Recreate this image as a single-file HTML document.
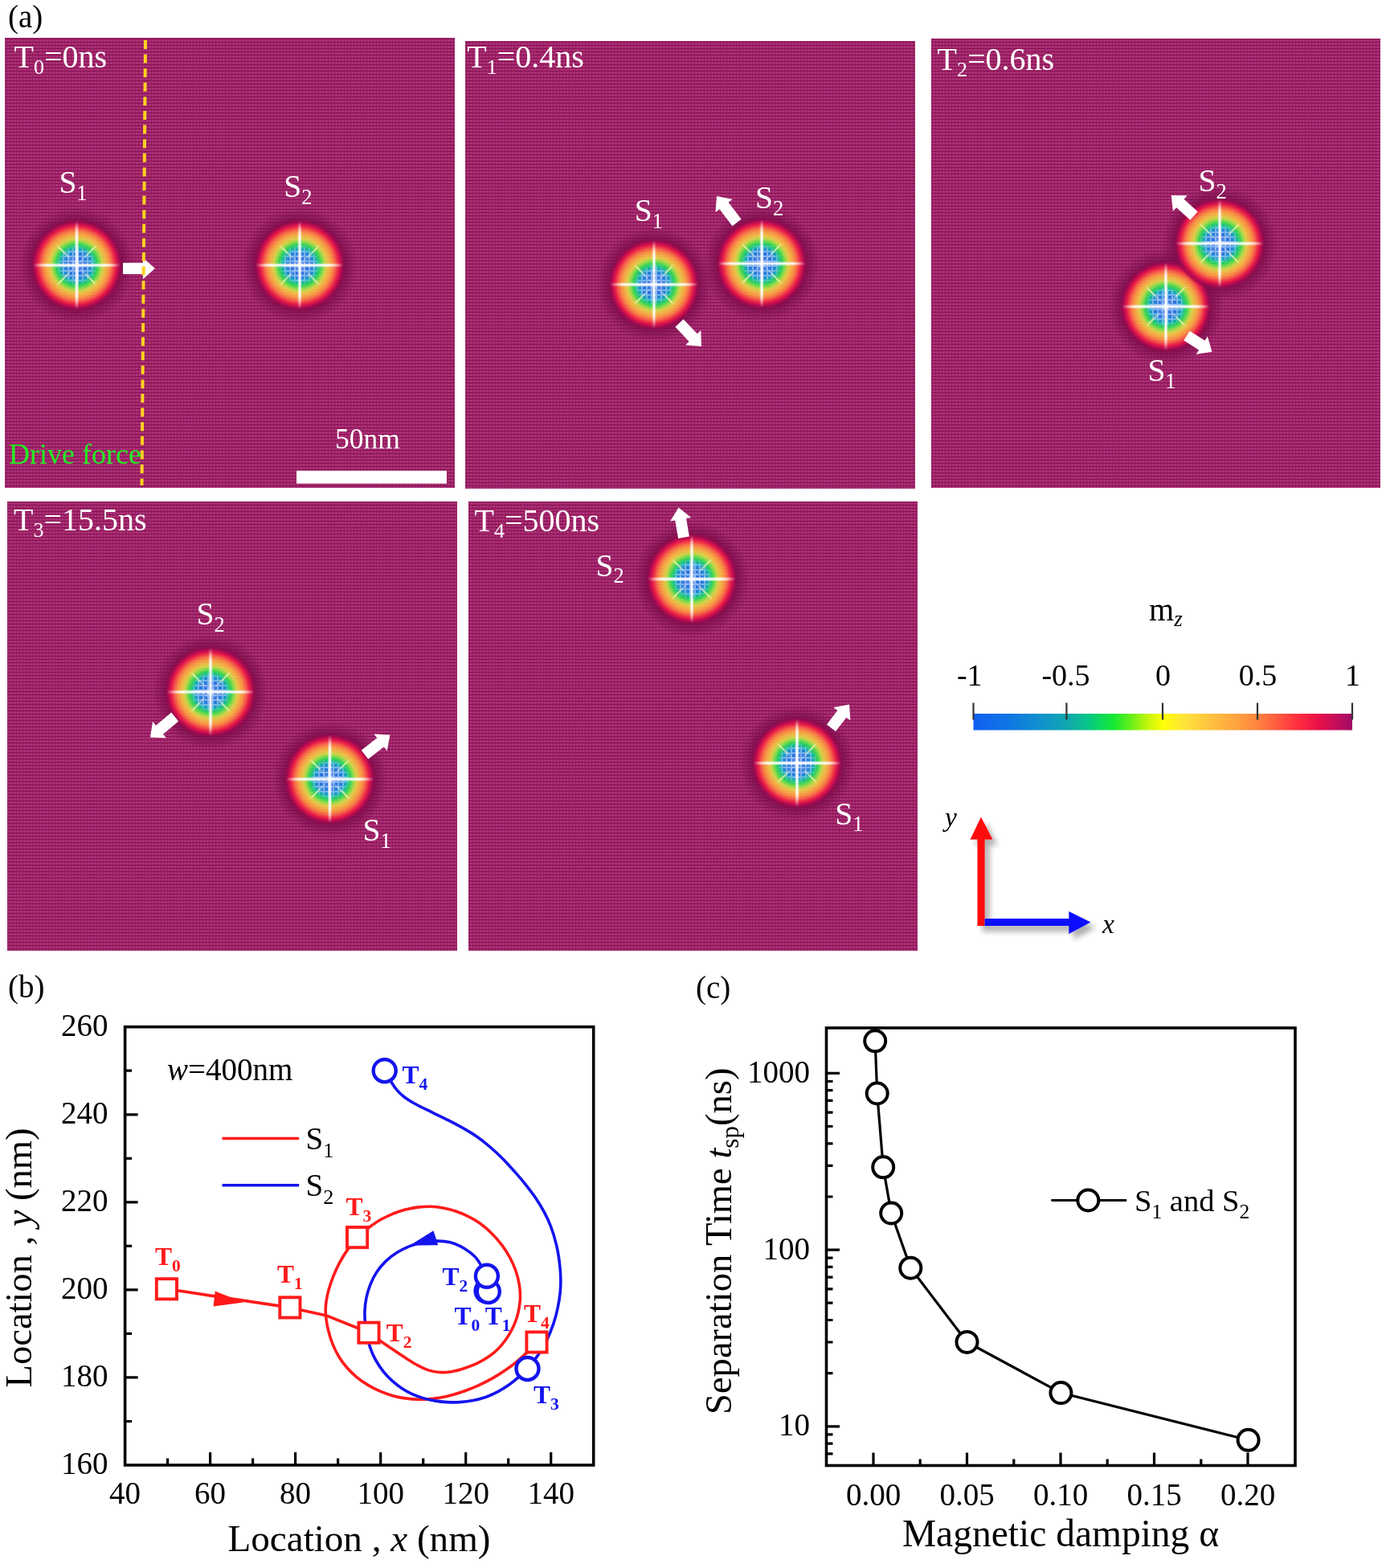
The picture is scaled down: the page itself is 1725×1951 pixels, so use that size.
<!DOCTYPE html><html><head><meta charset="utf-8"><title>Skyrmion figure</title>
<style>html,body{margin:0;padding:0;background:#fff;}svg{display:block;}text{font-family:'Liberation Serif', serif;}</style></head><body>
<svg width="1725" height="1951" viewBox="0 0 1725 1951">
<defs>
<pattern id="grid" width="4" height="4" patternUnits="userSpaceOnUse">
  <rect width="4" height="4" fill="#aa3076"/>
  <rect width="4" height="1" fill="#850c4f"/>
  <rect width="0.8" height="4" fill="#931c5a"/>
</pattern>
<radialGradient id="sk" cx="0.5" cy="0.5" r="0.5">
  <stop offset="0.0000" stop-color="#3a70e6" stop-opacity="1.00"/>
  <stop offset="0.1724" stop-color="#2c70e0" stop-opacity="1.00"/>
  <stop offset="0.2845" stop-color="#2282d8" stop-opacity="1.00"/>
  <stop offset="0.3362" stop-color="#18a0c2" stop-opacity="1.00"/>
  <stop offset="0.3879" stop-color="#16be8c" stop-opacity="1.00"/>
  <stop offset="0.4397" stop-color="#2ccf5a" stop-opacity="1.00"/>
  <stop offset="0.5000" stop-color="#7edb48" stop-opacity="1.00"/>
  <stop offset="0.5603" stop-color="#d4d048" stop-opacity="1.00"/>
  <stop offset="0.6293" stop-color="#f2b244" stop-opacity="1.00"/>
  <stop offset="0.7069" stop-color="#f68c42" stop-opacity="1.00"/>
  <stop offset="0.7759" stop-color="#f45446" stop-opacity="1.00"/>
  <stop offset="0.8328" stop-color="#ea2048" stop-opacity="1.00"/>
  <stop offset="0.8879" stop-color="#c20c50" stop-opacity="1.00"/>
  <stop offset="0.9483" stop-color="#980a4e" stop-opacity="0.60"/>
  <stop offset="1.0000" stop-color="#980a4e" stop-opacity="0.00"/>
</radialGradient>
<radialGradient id="halo" cx="0.5" cy="0.5" r="0.5">
  <stop offset="0" stop-color="#780a48" stop-opacity="0"/>
  <stop offset="0.62" stop-color="#780a48" stop-opacity="0"/>
  <stop offset="0.74" stop-color="#780a48" stop-opacity="0.85"/>
  <stop offset="0.84" stop-color="#7a0c4a" stop-opacity="0.55"/>
  <stop offset="1" stop-color="#7a0c4a" stop-opacity="0"/>
</radialGradient>
<pattern id="mesh" width="4" height="4" patternUnits="userSpaceOnUse">
  <circle cx="2" cy="2" r="0.9" fill="#ffffff" opacity="0.5"/>
</pattern>
<pattern id="mesh6" width="6" height="6" patternUnits="userSpaceOnUse">
  <rect x="0" y="0" width="6" height="2" fill="#d8f0ff"/>
  <rect x="0" y="0" width="2" height="6" fill="#d8f0ff"/>
</pattern>
<radialGradient id="meshfade" cx="0.5" cy="0.5" r="0.5">
  <stop offset="0" stop-color="#fff" stop-opacity="1"/>
  <stop offset="0.7" stop-color="#fff" stop-opacity="0.8"/>
  <stop offset="1" stop-color="#fff" stop-opacity="0"/>
</radialGradient>
<mask id="mfade" maskContentUnits="objectBoundingBox"><rect width="1" height="1" fill="url(#meshfade)"/></mask>
<linearGradient id="hx" x1="0" x2="1" y1="0" y2="0">
  <stop offset="0" stop-color="#fff" stop-opacity="0"/>
  <stop offset="0.15" stop-color="#fff" stop-opacity="0.85"/>
  <stop offset="0.5" stop-color="#fff" stop-opacity="0.95"/>
  <stop offset="0.85" stop-color="#fff" stop-opacity="0.85"/>
  <stop offset="1" stop-color="#fff" stop-opacity="0"/>
</linearGradient>
<linearGradient id="vx" x1="0" x2="0" y1="0" y2="1">
  <stop offset="0" stop-color="#fff" stop-opacity="0"/>
  <stop offset="0.15" stop-color="#fff" stop-opacity="0.85"/>
  <stop offset="0.5" stop-color="#fff" stop-opacity="0.95"/>
  <stop offset="0.85" stop-color="#fff" stop-opacity="0.85"/>
  <stop offset="1" stop-color="#fff" stop-opacity="0"/>
</linearGradient>
<linearGradient id="hd" x1="0" x2="1" y1="0" y2="0">
  <stop offset="0" stop-color="#fff6c0" stop-opacity="0"/>
  <stop offset="0.07" stop-color="#fff6c0" stop-opacity="0"/>
  <stop offset="0.15" stop-color="#fff6c0" stop-opacity="0.75"/>
  <stop offset="0.26" stop-color="#fff6c0" stop-opacity="0.6"/>
  <stop offset="0.36" stop-color="#ffffff" stop-opacity="0.2"/>
  <stop offset="0.5" stop-color="#ffffff" stop-opacity="0.15"/>
  <stop offset="0.64" stop-color="#ffffff" stop-opacity="0.2"/>
  <stop offset="0.74" stop-color="#fff6c0" stop-opacity="0.6"/>
  <stop offset="0.85" stop-color="#fff6c0" stop-opacity="0.75"/>
  <stop offset="0.93" stop-color="#fff6c0" stop-opacity="0"/>
  <stop offset="1" stop-color="#fff6c0" stop-opacity="0"/>
</linearGradient>
<linearGradient id="cbar" x1="0" x2="1" y1="0" y2="0">
  <stop offset="0.000" stop-color="#1060f2"/>
  <stop offset="0.100" stop-color="#1078e2"/>
  <stop offset="0.180" stop-color="#1092cc"/>
  <stop offset="0.250" stop-color="#10a8ae"/>
  <stop offset="0.300" stop-color="#08c48a"/>
  <stop offset="0.340" stop-color="#0cdc58"/>
  <stop offset="0.370" stop-color="#16e834"/>
  <stop offset="0.420" stop-color="#70f018"/>
  <stop offset="0.460" stop-color="#c4f60c"/>
  <stop offset="0.500" stop-color="#ffff08"/>
  <stop offset="0.560" stop-color="#ffe23c"/>
  <stop offset="0.630" stop-color="#ffc040"/>
  <stop offset="0.700" stop-color="#ffa040"/>
  <stop offset="0.750" stop-color="#ff8440"/>
  <stop offset="0.810" stop-color="#ff5440"/>
  <stop offset="0.860" stop-color="#ff2c40"/>
  <stop offset="0.910" stop-color="#e81048"/>
  <stop offset="0.960" stop-color="#c20e5c"/>
  <stop offset="1.000" stop-color="#a00c66"/>
</linearGradient>
<filter id="shadow" x="-30%" y="-30%" width="160%" height="160%">
  <feGaussianBlur in="SourceAlpha" stdDeviation="3.5"/>
  <feOffset dx="6" dy="7" result="ob"/>
  <feComponentTransfer><feFuncA type="linear" slope="0.32"/></feComponentTransfer>
  <feMerge><feMergeNode/><feMergeNode in="SourceGraphic"/></feMerge>
</filter>
</defs>
<rect width="1725" height="1951" fill="#fff"/>
<rect x="6" y="47" width="560" height="560" fill="url(#grid)"/>
<rect x="579" y="51" width="560" height="557" fill="url(#grid)"/>
<rect x="1159" y="48" width="559" height="559" fill="url(#grid)"/>
<rect x="9" y="624" width="560" height="559" fill="url(#grid)"/>
<rect x="583" y="624" width="559" height="559" fill="url(#grid)"/>
<circle cx="95.5" cy="330.0" r="72" fill="url(#halo)"/>
<circle cx="373.0" cy="330.0" r="72" fill="url(#halo)"/>
<circle cx="814.0" cy="354.0" r="72" fill="url(#halo)"/>
<circle cx="948.0" cy="328.0" r="72" fill="url(#halo)"/>
<circle cx="1451.0" cy="381.5" r="72" fill="url(#halo)"/>
<circle cx="1518.0" cy="303.0" r="72" fill="url(#halo)"/>
<circle cx="262.0" cy="861.0" r="72" fill="url(#halo)"/>
<circle cx="410.5" cy="969.5" r="72" fill="url(#halo)"/>
<circle cx="861.0" cy="720.5" r="72" fill="url(#halo)"/>
<circle cx="992.0" cy="949.5" r="72" fill="url(#halo)"/>
<circle cx="95.5" cy="330.0" r="58" fill="url(#sk)"/>
<circle cx="95.5" cy="330.0" r="46" fill="url(#mesh)" opacity="0.18"/>
<circle cx="95.5" cy="330.0" r="26" fill="url(#mesh6)" opacity="0.55" mask="url(#mfade)"/>
<rect x="40.5" y="327.5" width="110" height="5" fill="url(#hx)" opacity="0.45"/>
<rect x="93.0" y="275.0" width="5" height="110" fill="url(#vx)" opacity="0.45"/>
<rect x="41.5" y="328.8" width="108" height="2.4" fill="url(#hx)"/>
<rect x="94.3" y="276.0" width="2.4" height="108" fill="url(#vx)"/>
<rect x="-42" y="-1.1" width="84" height="2.2" fill="url(#hd)" transform="translate(95.5,330.0) rotate(45)"/>
<rect x="-42" y="-1.1" width="84" height="2.2" fill="url(#hd)" transform="translate(95.5,330.0) rotate(135)"/>
<circle cx="373.0" cy="330.0" r="58" fill="url(#sk)"/>
<circle cx="373.0" cy="330.0" r="46" fill="url(#mesh)" opacity="0.18"/>
<circle cx="373.0" cy="330.0" r="26" fill="url(#mesh6)" opacity="0.55" mask="url(#mfade)"/>
<rect x="318.0" y="327.5" width="110" height="5" fill="url(#hx)" opacity="0.45"/>
<rect x="370.5" y="275.0" width="5" height="110" fill="url(#vx)" opacity="0.45"/>
<rect x="319.0" y="328.8" width="108" height="2.4" fill="url(#hx)"/>
<rect x="371.8" y="276.0" width="2.4" height="108" fill="url(#vx)"/>
<rect x="-42" y="-1.1" width="84" height="2.2" fill="url(#hd)" transform="translate(373.0,330.0) rotate(45)"/>
<rect x="-42" y="-1.1" width="84" height="2.2" fill="url(#hd)" transform="translate(373.0,330.0) rotate(135)"/>
<circle cx="814.0" cy="354.0" r="58" fill="url(#sk)"/>
<circle cx="814.0" cy="354.0" r="46" fill="url(#mesh)" opacity="0.18"/>
<circle cx="814.0" cy="354.0" r="26" fill="url(#mesh6)" opacity="0.55" mask="url(#mfade)"/>
<rect x="759.0" y="351.5" width="110" height="5" fill="url(#hx)" opacity="0.45"/>
<rect x="811.5" y="299.0" width="5" height="110" fill="url(#vx)" opacity="0.45"/>
<rect x="760.0" y="352.8" width="108" height="2.4" fill="url(#hx)"/>
<rect x="812.8" y="300.0" width="2.4" height="108" fill="url(#vx)"/>
<rect x="-42" y="-1.1" width="84" height="2.2" fill="url(#hd)" transform="translate(814.0,354.0) rotate(45)"/>
<rect x="-42" y="-1.1" width="84" height="2.2" fill="url(#hd)" transform="translate(814.0,354.0) rotate(135)"/>
<circle cx="948.0" cy="328.0" r="58" fill="url(#sk)"/>
<circle cx="948.0" cy="328.0" r="46" fill="url(#mesh)" opacity="0.18"/>
<circle cx="948.0" cy="328.0" r="26" fill="url(#mesh6)" opacity="0.55" mask="url(#mfade)"/>
<rect x="893.0" y="325.5" width="110" height="5" fill="url(#hx)" opacity="0.45"/>
<rect x="945.5" y="273.0" width="5" height="110" fill="url(#vx)" opacity="0.45"/>
<rect x="894.0" y="326.8" width="108" height="2.4" fill="url(#hx)"/>
<rect x="946.8" y="274.0" width="2.4" height="108" fill="url(#vx)"/>
<rect x="-42" y="-1.1" width="84" height="2.2" fill="url(#hd)" transform="translate(948.0,328.0) rotate(45)"/>
<rect x="-42" y="-1.1" width="84" height="2.2" fill="url(#hd)" transform="translate(948.0,328.0) rotate(135)"/>
<circle cx="1451.0" cy="381.5" r="58" fill="url(#sk)"/>
<circle cx="1451.0" cy="381.5" r="46" fill="url(#mesh)" opacity="0.18"/>
<circle cx="1451.0" cy="381.5" r="26" fill="url(#mesh6)" opacity="0.55" mask="url(#mfade)"/>
<rect x="1396.0" y="379.0" width="110" height="5" fill="url(#hx)" opacity="0.45"/>
<rect x="1448.5" y="326.5" width="5" height="110" fill="url(#vx)" opacity="0.45"/>
<rect x="1397.0" y="380.3" width="108" height="2.4" fill="url(#hx)"/>
<rect x="1449.8" y="327.5" width="2.4" height="108" fill="url(#vx)"/>
<rect x="-42" y="-1.1" width="84" height="2.2" fill="url(#hd)" transform="translate(1451.0,381.5) rotate(45)"/>
<rect x="-42" y="-1.1" width="84" height="2.2" fill="url(#hd)" transform="translate(1451.0,381.5) rotate(135)"/>
<circle cx="1518.0" cy="303.0" r="58" fill="url(#sk)"/>
<circle cx="1518.0" cy="303.0" r="46" fill="url(#mesh)" opacity="0.18"/>
<circle cx="1518.0" cy="303.0" r="26" fill="url(#mesh6)" opacity="0.55" mask="url(#mfade)"/>
<rect x="1463.0" y="300.5" width="110" height="5" fill="url(#hx)" opacity="0.45"/>
<rect x="1515.5" y="248.0" width="5" height="110" fill="url(#vx)" opacity="0.45"/>
<rect x="1464.0" y="301.8" width="108" height="2.4" fill="url(#hx)"/>
<rect x="1516.8" y="249.0" width="2.4" height="108" fill="url(#vx)"/>
<rect x="-42" y="-1.1" width="84" height="2.2" fill="url(#hd)" transform="translate(1518.0,303.0) rotate(45)"/>
<rect x="-42" y="-1.1" width="84" height="2.2" fill="url(#hd)" transform="translate(1518.0,303.0) rotate(135)"/>
<circle cx="262.0" cy="861.0" r="58" fill="url(#sk)"/>
<circle cx="262.0" cy="861.0" r="46" fill="url(#mesh)" opacity="0.18"/>
<circle cx="262.0" cy="861.0" r="26" fill="url(#mesh6)" opacity="0.55" mask="url(#mfade)"/>
<rect x="207.0" y="858.5" width="110" height="5" fill="url(#hx)" opacity="0.45"/>
<rect x="259.5" y="806.0" width="5" height="110" fill="url(#vx)" opacity="0.45"/>
<rect x="208.0" y="859.8" width="108" height="2.4" fill="url(#hx)"/>
<rect x="260.8" y="807.0" width="2.4" height="108" fill="url(#vx)"/>
<rect x="-42" y="-1.1" width="84" height="2.2" fill="url(#hd)" transform="translate(262.0,861.0) rotate(45)"/>
<rect x="-42" y="-1.1" width="84" height="2.2" fill="url(#hd)" transform="translate(262.0,861.0) rotate(135)"/>
<circle cx="410.5" cy="969.5" r="58" fill="url(#sk)"/>
<circle cx="410.5" cy="969.5" r="46" fill="url(#mesh)" opacity="0.18"/>
<circle cx="410.5" cy="969.5" r="26" fill="url(#mesh6)" opacity="0.55" mask="url(#mfade)"/>
<rect x="355.5" y="967.0" width="110" height="5" fill="url(#hx)" opacity="0.45"/>
<rect x="408.0" y="914.5" width="5" height="110" fill="url(#vx)" opacity="0.45"/>
<rect x="356.5" y="968.3" width="108" height="2.4" fill="url(#hx)"/>
<rect x="409.3" y="915.5" width="2.4" height="108" fill="url(#vx)"/>
<rect x="-42" y="-1.1" width="84" height="2.2" fill="url(#hd)" transform="translate(410.5,969.5) rotate(45)"/>
<rect x="-42" y="-1.1" width="84" height="2.2" fill="url(#hd)" transform="translate(410.5,969.5) rotate(135)"/>
<circle cx="861.0" cy="720.5" r="58" fill="url(#sk)"/>
<circle cx="861.0" cy="720.5" r="46" fill="url(#mesh)" opacity="0.18"/>
<circle cx="861.0" cy="720.5" r="26" fill="url(#mesh6)" opacity="0.55" mask="url(#mfade)"/>
<rect x="806.0" y="718.0" width="110" height="5" fill="url(#hx)" opacity="0.45"/>
<rect x="858.5" y="665.5" width="5" height="110" fill="url(#vx)" opacity="0.45"/>
<rect x="807.0" y="719.3" width="108" height="2.4" fill="url(#hx)"/>
<rect x="859.8" y="666.5" width="2.4" height="108" fill="url(#vx)"/>
<rect x="-42" y="-1.1" width="84" height="2.2" fill="url(#hd)" transform="translate(861.0,720.5) rotate(45)"/>
<rect x="-42" y="-1.1" width="84" height="2.2" fill="url(#hd)" transform="translate(861.0,720.5) rotate(135)"/>
<circle cx="992.0" cy="949.5" r="58" fill="url(#sk)"/>
<circle cx="992.0" cy="949.5" r="46" fill="url(#mesh)" opacity="0.18"/>
<circle cx="992.0" cy="949.5" r="26" fill="url(#mesh6)" opacity="0.55" mask="url(#mfade)"/>
<rect x="937.0" y="947.0" width="110" height="5" fill="url(#hx)" opacity="0.45"/>
<rect x="989.5" y="894.5" width="5" height="110" fill="url(#vx)" opacity="0.45"/>
<rect x="938.0" y="948.3" width="108" height="2.4" fill="url(#hx)"/>
<rect x="990.8" y="895.5" width="2.4" height="108" fill="url(#vx)"/>
<rect x="-42" y="-1.1" width="84" height="2.2" fill="url(#hd)" transform="translate(992.0,949.5) rotate(45)"/>
<rect x="-42" y="-1.1" width="84" height="2.2" fill="url(#hd)" transform="translate(992.0,949.5) rotate(135)"/>
<polygon points="0.0,-7.0 25.0,-7.0 25.0,-13.2 40.0,0.0 25.0,13.2 25.0,7.0 0.0,7.0" fill="#fff" transform="translate(153.0,334.0) rotate(0.00)"/>
<polygon points="0.0,-7.0 26.4,-7.0 26.4,-13.2 41.4,0.0 26.4,13.2 26.4,7.0 0.0,7.0" fill="#fff" transform="translate(917.0,277.0) rotate(-127.15)"/>
<polygon points="0.0,-7.0 25.0,-7.0 25.0,-13.2 40.0,0.0 25.0,13.2 25.0,7.0 0.0,7.0" fill="#fff" transform="translate(845.5,402.0) rotate(46.52)"/>
<polygon points="0.0,-7.0 23.1,-7.0 23.1,-13.2 38.1,0.0 23.1,13.2 23.1,7.0 0.0,7.0" fill="#fff" transform="translate(1486.0,268.5) rotate(-137.98)"/>
<polygon points="0.0,-7.0 22.3,-7.0 22.3,-13.2 37.3,0.0 22.3,13.2 22.3,7.0 0.0,7.0" fill="#fff" transform="translate(1477.0,417.7) rotate(32.41)"/>
<polygon points="0.0,-7.0 25.0,-7.0 25.0,-13.2 40.0,0.0 25.0,13.2 25.0,7.0 0.0,7.0" fill="#fff" transform="translate(217.7,892.0) rotate(140.18)"/>
<polygon points="0.0,-7.0 24.8,-7.0 24.8,-13.2 39.8,0.0 24.8,13.2 24.8,7.0 0.0,7.0" fill="#fff" transform="translate(454.0,939.0) rotate(-37.85)"/>
<polygon points="0.0,-7.0 22.8,-7.0 22.8,-13.2 37.8,0.0 22.8,13.2 22.8,7.0 0.0,7.0" fill="#fff" transform="translate(851.0,668.7) rotate(-99.74)"/>
<polygon points="0.0,-7.0 21.9,-7.0 21.9,-13.2 36.9,0.0 21.9,13.2 21.9,7.0 0.0,7.0" fill="#fff" transform="translate(1034.5,905.7) rotate(-52.38)"/>
<line x1="181" y1="50" x2="176.5" y2="604" stroke="#ffd21e" stroke-width="4" stroke-dasharray="11,6.6"/>
<rect x="369" y="585.7" width="187" height="16" fill="#fff"/>
<text x="417" y="558.3" font-size="35.5" fill="#fff">50nm</text>
<text x="11" y="576.5" font-size="36" fill="#22f022">Drive force</text>
<text x="17.5" y="83.5" font-size="40.0" fill="#fff" font-weight="normal" >T<tspan font-size="26.0" dy="8.0">0</tspan><tspan dy="-8.0">=0ns</tspan></text>
<text x="581.3" y="83.5" font-size="40.0" fill="#fff" font-weight="normal" >T<tspan font-size="26.0" dy="8.0">1</tspan><tspan dy="-8.0">=0.4ns</tspan></text>
<text x="1166.5" y="87.0" font-size="40.0" fill="#fff" font-weight="normal" >T<tspan font-size="26.0" dy="8.0">2</tspan><tspan dy="-8.0">=0.6ns</tspan></text>
<text x="17.0" y="660.0" font-size="40.0" fill="#fff" font-weight="normal" >T<tspan font-size="26.0" dy="8.0">3</tspan><tspan dy="-8.0">=15.5ns</tspan></text>
<text x="590.5" y="660.6" font-size="40.0" fill="#fff" font-weight="normal" >T<tspan font-size="26.0" dy="8.0">4</tspan><tspan dy="-8.0">=500ns</tspan></text>
<text x="73.4" y="240.3" font-size="39.5" fill="#fff" font-weight="normal" >S<tspan font-size="26.5" dy="8.5">1</tspan></text>
<text x="353.2" y="245.2" font-size="39.5" fill="#fff" font-weight="normal" >S<tspan font-size="26.5" dy="8.5">2</tspan></text>
<text x="789.8" y="275.4" font-size="39.5" fill="#fff" font-weight="normal" >S<tspan font-size="26.5" dy="8.5">1</tspan></text>
<text x="940.1" y="259.0" font-size="39.5" fill="#fff" font-weight="normal" >S<tspan font-size="26.5" dy="8.5">2</tspan></text>
<text x="1428.4" y="474.2" font-size="39.5" fill="#fff" font-weight="normal" >S<tspan font-size="26.5" dy="8.5">1</tspan></text>
<text x="1491.6" y="238.2" font-size="39.5" fill="#fff" font-weight="normal" >S<tspan font-size="26.5" dy="8.5">2</tspan></text>
<text x="244.6" y="777.2" font-size="39.5" fill="#fff" font-weight="normal" >S<tspan font-size="26.5" dy="8.5">2</tspan></text>
<text x="451.6" y="1046.2" font-size="39.5" fill="#fff" font-weight="normal" >S<tspan font-size="26.5" dy="8.5">1</tspan></text>
<text x="741.6" y="716.5" font-size="39.5" fill="#fff" font-weight="normal" >S<tspan font-size="26.5" dy="8.5">2</tspan></text>
<text x="1039.2" y="1025.5" font-size="39.5" fill="#fff" font-weight="normal" >S<tspan font-size="26.5" dy="8.5">1</tspan></text>
<text x="1430" y="771.5" font-size="40" fill="#000">m<tspan font-size="27" font-style="italic" dy="7">z</tspan></text>
<rect x="1211.5" y="888" width="471.5" height="20.5" fill="url(#cbar)"/>
<line x1="1211.5" y1="874.5" x2="1211.5" y2="895.5" stroke="#333" stroke-width="2.2"/>
<text x="1206.8" y="852.8" font-size="38" fill="#000" text-anchor="middle">-1</text>
<line x1="1327.4" y1="874.5" x2="1327.4" y2="895.5" stroke="#333" stroke-width="2.2"/>
<text x="1326.5" y="852.8" font-size="38" fill="#000" text-anchor="middle">-0.5</text>
<line x1="1447.0" y1="874.5" x2="1447.0" y2="895.5" stroke="#333" stroke-width="2.2"/>
<text x="1447.5" y="852.8" font-size="38" fill="#000" text-anchor="middle">0</text>
<line x1="1565.0" y1="874.5" x2="1565.0" y2="895.5" stroke="#333" stroke-width="2.2"/>
<text x="1565.4" y="852.8" font-size="38" fill="#000" text-anchor="middle">0.5</text>
<line x1="1683.0" y1="874.5" x2="1683.0" y2="895.5" stroke="#333" stroke-width="2.2"/>
<text x="1683.4" y="852.8" font-size="38" fill="#000" text-anchor="middle">1</text>
<g filter="url(#shadow)">
<polygon points="1216.5,1152 1216.5,1044.5 1207.5,1044.5 1221,1016.6 1235.4,1044.5 1225.6,1044.5 1225.6,1152" fill="#ff0a0a"/>
<polygon points="1225.6,1143 1330.3,1143 1330.3,1134 1357.4,1147.5 1330.3,1162 1330.3,1152 1225.6,1152" fill="#0a0aff"/>
</g>
<text x="1176" y="1027.5" font-size="33.5" font-style="italic" fill="#000">y</text>
<text x="1372" y="1160.5" font-size="33.5" font-style="italic" fill="#000">x</text>
<text x="10" y="1241" font-size="39" fill="#000">(b)</text>
<text x="866" y="1242" font-size="39" fill="#000">(c)</text>
<text x="10" y="34" font-size="39" fill="#000">(a)</text>
<path d="M208.6,1823.0 v-8.5 M261.6,1823.0 v-16.0 M314.6,1823.0 v-8.5 M367.6,1823.0 v-16.0 M420.6,1823.0 v-8.5 M473.7,1823.0 v-16.0 M526.7,1823.0 v-8.5 M579.7,1823.0 v-16.0 M632.7,1823.0 v-8.5 M685.7,1823.0 v-16.0 M155.6,1768.5 h8.5 M155.6,1713.9 h16.0 M155.6,1659.4 h8.5 M155.6,1604.9 h16.0 M155.6,1550.3 h8.5 M155.6,1495.8 h16.0 M155.6,1441.3 h8.5 M155.6,1386.8 h16.0 M155.6,1332.2 h8.5" stroke="#000" stroke-width="3.2" fill="none"/>
<rect x="155.6" y="1277.7" width="583.1" height="545.3" fill="none" stroke="#000" stroke-width="3.6"/>
<text x="155.6" y="1871.3" font-size="39" text-anchor="middle" fill="#000">40</text>
<text x="261.6" y="1871.3" font-size="39" text-anchor="middle" fill="#000">60</text>
<text x="367.6" y="1871.3" font-size="39" text-anchor="middle" fill="#000">80</text>
<text x="473.7" y="1871.3" font-size="39" text-anchor="middle" fill="#000">100</text>
<text x="579.7" y="1871.3" font-size="39" text-anchor="middle" fill="#000">120</text>
<text x="685.7" y="1871.3" font-size="39" text-anchor="middle" fill="#000">140</text>
<text x="134.5" y="1834.0" font-size="39" text-anchor="end" fill="#000">160</text>
<text x="134.5" y="1724.9" font-size="39" text-anchor="end" fill="#000">180</text>
<text x="134.5" y="1615.9" font-size="39" text-anchor="end" fill="#000">200</text>
<text x="134.5" y="1506.8" font-size="39" text-anchor="end" fill="#000">220</text>
<text x="134.5" y="1397.8" font-size="39" text-anchor="end" fill="#000">240</text>
<text x="134.5" y="1288.7" font-size="39" text-anchor="end" fill="#000">260</text>
<text x="447" y="1930.4" font-size="47.1" text-anchor="middle" fill="#000">Location , <tspan font-style="italic">x</tspan> (nm)</text>
<text transform="translate(39,1565) rotate(-90)" font-size="46.5" text-anchor="middle" fill="#000">Location , <tspan font-style="italic">y</tspan> (nm)</text>
<text x="208" y="1343.5" font-size="39" fill="#000"><tspan font-style="italic">w</tspan>=400nm</text>
<line x1="276.5" y1="1416.5" x2="372.2" y2="1416.5" stroke="#ff1a1a" stroke-width="3.6"/>
<line x1="276.5" y1="1474.8" x2="372.2" y2="1474.8" stroke="#1414ee" stroke-width="3.6"/>
<text x="380.5" y="1429.6" font-size="39.0" fill="#000" font-weight="normal" >S<tspan font-size="26.0" dy="10.0">1</tspan></text>
<text x="380.5" y="1487.8" font-size="39.0" fill="#000" font-weight="normal" >S<tspan font-size="26.0" dy="10.0">2</tspan></text>
<path d="M207.4,1603.8 L360.9,1626.9 L405.6,1636.7 L459,1658" stroke="#ff1a1a" stroke-width="3.6" fill="none" stroke-linejoin="round"/>
<path d="M459.0,1658.0 C461.5,1659.8 469.1,1665.5 474.1,1669.1 C479.2,1672.6 484.1,1675.9 489.2,1679.3 C494.2,1682.7 499.5,1686.2 504.6,1689.5 C509.6,1692.7 514.7,1696.2 519.5,1698.7 C524.3,1701.3 528.6,1703.4 533.1,1704.9 C537.7,1706.3 542.1,1707.2 546.9,1707.5 C551.7,1707.8 556.8,1707.5 561.9,1706.7 C567.1,1705.9 572.6,1704.3 577.9,1702.5 C583.2,1700.8 588.7,1698.6 593.7,1696.3 C598.7,1693.9 603.5,1691.3 607.8,1688.3 C612.2,1685.4 616.2,1682.1 619.8,1678.5 C623.4,1674.9 626.7,1670.9 629.6,1666.8 C632.5,1662.6 635.2,1658.1 637.4,1653.7 C639.7,1649.3 641.5,1644.8 643.0,1640.3 C644.4,1635.9 645.5,1631.4 646.2,1626.8 C646.9,1622.3 647.5,1617.7 647.5,1612.9 C647.4,1608.1 647.1,1603.2 646.2,1597.9 C645.3,1592.7 643.9,1587.0 642.0,1581.5 C640.1,1576.0 637.7,1570.4 634.8,1565.0 C631.9,1559.6 628.5,1554.3 624.6,1549.1 C620.7,1544.0 616.2,1538.7 611.5,1534.2 C606.9,1529.6 601.7,1525.3 596.8,1521.8 C591.9,1518.3 586.9,1515.5 581.9,1513.1 C577.0,1510.6 572.0,1508.7 567.0,1507.0 C561.9,1505.4 556.7,1503.9 551.5,1503.0 C546.3,1502.0 541.1,1501.4 535.9,1501.2 C530.7,1501.1 525.4,1501.4 520.2,1502.1 C515.0,1502.7 509.8,1503.7 504.6,1505.1 C499.4,1506.5 494.1,1508.3 488.9,1510.3 C483.8,1512.4 478.7,1514.7 473.8,1517.5 C468.9,1520.3 464.2,1523.5 459.3,1527.2 C454.5,1530.9 449.1,1534.9 444.6,1539.6 C440.1,1544.3 436.1,1549.8 432.4,1555.1 C428.7,1560.4 425.3,1566.1 422.4,1571.7 C419.4,1577.2 416.8,1583.1 414.6,1588.6 C412.4,1594.1 410.5,1599.7 409.1,1604.8 C407.7,1609.8 406.7,1614.7 406.1,1618.9 C405.4,1623.1 405.2,1626.4 405.2,1630.1 C405.2,1633.9 405.4,1636.9 406.0,1641.1 C406.5,1645.3 407.3,1650.1 408.6,1655.2 C409.9,1660.3 411.6,1666.4 413.8,1671.9 C416.0,1677.3 418.7,1683.0 421.7,1688.0 C424.7,1692.9 428.2,1697.6 431.9,1701.8 C435.6,1706.1 439.7,1710.0 444.0,1713.6 C448.4,1717.2 453.1,1720.5 458.0,1723.4 C462.9,1726.3 468.1,1729.0 473.3,1731.2 C478.4,1733.4 483.7,1735.2 488.9,1736.7 C494.1,1738.1 499.4,1739.2 504.6,1739.9 C509.8,1740.7 515.0,1741.0 520.2,1741.2 C525.4,1741.3 530.8,1741.0 535.9,1740.6 C541.0,1740.2 546.0,1739.4 550.7,1738.6 C555.5,1737.7 559.6,1736.6 564.2,1735.3 C568.8,1734.0 573.3,1732.6 578.4,1730.8 C583.5,1728.9 589.2,1726.7 594.8,1724.2 C600.4,1721.6 606.6,1718.5 612.2,1715.4 C617.8,1712.2 623.4,1708.7 628.4,1705.3 C633.3,1701.9 637.7,1698.7 642.1,1695.1 C646.6,1691.5 650.7,1687.8 655.0,1683.6 C659.3,1679.4 665.8,1672.3 668.0,1670.0" stroke="#ff1a1a" stroke-width="3.6" fill="none"/>
<polygon points="267.7,1606.5 265.6,1625.4 303.1,1620.5" fill="#ff1a1a"/>
<path d="M607.0,1606.0 C606.8,1603.0 607.2,1593.0 605.9,1587.8 C604.6,1582.6 601.2,1578.7 599.0,1575.0 C596.8,1571.3 595.2,1568.4 592.9,1565.6 C590.5,1562.8 587.9,1560.7 584.7,1558.2 C581.4,1555.7 577.5,1553.0 573.4,1550.9 C569.3,1548.8 565.1,1546.9 560.3,1545.7 C555.6,1544.6 550.5,1544.1 545.0,1544.1 C539.6,1544.0 533.5,1544.6 527.8,1545.6 C522.0,1546.7 516.0,1548.3 510.4,1550.4 C504.9,1552.5 499.4,1555.1 494.4,1558.2 C489.4,1561.3 484.5,1565.0 480.3,1569.1 C476.0,1573.2 472.1,1577.8 468.9,1582.8 C465.6,1587.7 462.9,1593.2 460.8,1598.6 C458.6,1604.0 457.1,1609.7 455.9,1615.1 C454.8,1620.5 454.2,1625.8 454.0,1631.1 C453.7,1636.4 454.1,1641.6 454.5,1646.8 C455.0,1651.9 455.8,1657.0 456.9,1662.1 C458.0,1667.2 459.1,1672.2 460.9,1677.3 C462.7,1682.4 464.9,1687.6 467.7,1692.5 C470.5,1697.5 474.1,1702.7 477.6,1707.1 C481.1,1711.4 485.0,1715.3 488.7,1718.7 C492.4,1722.0 495.9,1724.7 499.8,1727.2 C503.7,1729.8 507.6,1732.0 512.0,1734.1 C516.3,1736.1 521.0,1737.9 525.9,1739.4 C530.7,1740.9 535.8,1742.1 540.9,1742.9 C546.0,1743.8 551.0,1744.4 556.3,1744.6 C561.5,1744.9 566.8,1745.0 572.2,1744.6 C577.7,1744.3 583.3,1743.7 588.8,1742.6 C594.2,1741.5 599.6,1740.0 604.9,1738.2 C610.1,1736.3 615.3,1733.9 620.1,1731.3 C625.0,1728.8 629.6,1725.8 633.9,1722.8 C638.1,1719.8 642.0,1716.6 645.8,1713.2 C649.5,1709.9 652.5,1707.6 656.5,1703.0 C660.5,1698.4 665.7,1691.9 669.7,1685.9 C673.7,1679.9 677.5,1673.6 680.7,1667.1 C683.9,1660.7 686.5,1653.9 688.8,1647.2 C691.0,1640.6 692.8,1633.9 694.1,1627.5 C695.5,1621.1 696.5,1615.0 697.1,1609.0 C697.7,1603.0 697.9,1597.6 697.8,1591.4 C697.7,1585.2 697.3,1578.6 696.4,1571.5 C695.5,1564.5 694.3,1556.4 692.5,1549.0 C690.8,1541.7 688.6,1534.1 686.0,1527.3 C683.5,1520.5 680.5,1514.2 677.3,1508.2 C674.2,1502.2 670.7,1496.6 667.1,1491.2 C663.5,1485.8 659.7,1480.9 655.7,1475.8 C651.6,1470.6 647.2,1465.4 642.8,1460.4 C638.3,1455.3 633.4,1449.8 629.0,1445.2 C624.6,1440.7 620.4,1436.7 616.5,1433.0 C612.6,1429.3 609.1,1426.3 605.4,1423.3 C601.6,1420.2 598.4,1417.6 594.2,1414.7 C590.0,1411.8 585.8,1409.1 580.2,1405.9 C574.6,1402.7 567.5,1398.9 560.5,1395.2 C553.5,1391.6 545.0,1387.7 537.9,1384.1 C530.8,1380.6 523.4,1377.2 517.6,1374.0 C511.8,1370.8 507.1,1367.9 503.2,1365.0 C499.3,1362.1 496.8,1359.6 494.1,1356.4 C491.4,1353.3 489.3,1350.1 486.8,1346.0 C484.2,1342.0 480.0,1334.5 478.7,1332.2" stroke="#1414ee" stroke-width="3.6" fill="none"/>
<polygon points="539.5,1531.2 545.3,1549.3 509.8,1549.8" fill="#1414ee"/>
<rect x="194.8" y="1591.2" width="25.2" height="25.2" fill="#fff" stroke="#ff1a1a" stroke-width="3.9"/>
<rect x="348.3" y="1614.3" width="25.2" height="25.2" fill="#fff" stroke="#ff1a1a" stroke-width="3.9"/>
<rect x="446.4" y="1645.6" width="25.2" height="25.2" fill="#fff" stroke="#ff1a1a" stroke-width="3.9"/>
<rect x="432.0" y="1527.0" width="25.2" height="25.2" fill="#fff" stroke="#ff1a1a" stroke-width="3.9"/>
<rect x="655.4" y="1657.4" width="25.2" height="25.2" fill="#fff" stroke="#ff1a1a" stroke-width="3.9"/>
<circle cx="605.6" cy="1606.2" r="14" fill="#fff" stroke="#1414ee" stroke-width="4.4"/>
<circle cx="607.8" cy="1607.0" r="14" fill="#fff" stroke="#1414ee" stroke-width="4.4"/>
<circle cx="605.9" cy="1587.8" r="14" fill="#fff" stroke="#1414ee" stroke-width="4.4"/>
<circle cx="656.5" cy="1703.0" r="14" fill="#fff" stroke="#1414ee" stroke-width="4.4"/>
<circle cx="478.7" cy="1332.2" r="14" fill="#fff" stroke="#1414ee" stroke-width="4.4"/>
<text x="193.0" y="1574.0" font-size="31.5" fill="#ff1a1a" font-weight="bold" >T<tspan font-size="21.5" dy="8.0">0</tspan></text>
<text x="345.0" y="1595.7" font-size="31.5" fill="#ff1a1a" font-weight="bold" >T<tspan font-size="21.5" dy="8.0">1</tspan></text>
<text x="480.7" y="1668.5" font-size="31.5" fill="#ff1a1a" font-weight="bold" >T<tspan font-size="21.5" dy="8.0">2</tspan></text>
<text x="430.4" y="1511.9" font-size="31.5" fill="#ff1a1a" font-weight="bold" >T<tspan font-size="21.5" dy="8.0">3</tspan></text>
<text x="652.1" y="1644.9" font-size="31.5" fill="#ff1a1a" font-weight="bold" >T<tspan font-size="21.5" dy="8.0">4</tspan></text>
<text x="565.4" y="1647.8" font-size="31.5" fill="#1414ee" font-weight="bold" >T<tspan font-size="21.5" dy="8.0">0</tspan></text>
<text x="603.8" y="1647.8" font-size="31.5" fill="#1414ee" font-weight="bold" >T<tspan font-size="21.5" dy="8.0">1</tspan></text>
<text x="550.6" y="1598.5" font-size="31.5" fill="#1414ee" font-weight="bold" >T<tspan font-size="21.5" dy="8.0">2</tspan></text>
<text x="664.0" y="1746.4" font-size="31.5" fill="#1414ee" font-weight="bold" >T<tspan font-size="21.5" dy="8.0">3</tspan></text>
<text x="500.4" y="1348.3" font-size="31.5" fill="#1414ee" font-weight="bold" >T<tspan font-size="21.5" dy="8.0">4</tspan></text>
<path d="M1087.0,1823.5 v-16.0 M1145.2,1823.5 v-8.0 M1203.5,1823.5 v-16.0 M1261.8,1823.5 v-8.0 M1320.0,1823.5 v-16.0 M1378.2,1823.5 v-8.0 M1436.5,1823.5 v-16.0 M1494.8,1823.5 v-8.0 M1553.0,1823.5 v-16.0 M1028.5,1808.8 h8.0 M1028.5,1796.1 h8.0 M1028.5,1784.9 h8.0 M1028.5,1774.8 h16.5 M1028.5,1708.7 h8.0 M1028.5,1670.0 h8.0 M1028.5,1642.5 h8.0 M1028.5,1621.2 h8.0 M1028.5,1603.8 h8.0 M1028.5,1589.1 h8.0 M1028.5,1576.4 h8.0 M1028.5,1565.2 h8.0 M1028.5,1555.1 h16.5 M1028.5,1489.0 h8.0 M1028.5,1450.3 h8.0 M1028.5,1422.8 h8.0 M1028.5,1401.5 h8.0 M1028.5,1384.1 h8.0 M1028.5,1369.4 h8.0 M1028.5,1356.7 h8.0 M1028.5,1345.5 h8.0 M1028.5,1335.4 h16.5" stroke="#000" stroke-width="3.2" fill="none"/>
<rect x="1028.5" y="1279.0" width="583.5" height="544.5" fill="none" stroke="#000" stroke-width="3.6"/>
<text x="1087.0" y="1872.5" font-size="39" text-anchor="middle" fill="#000">0.00</text>
<text x="1203.5" y="1872.5" font-size="39" text-anchor="middle" fill="#000">0.05</text>
<text x="1320.0" y="1872.5" font-size="39" text-anchor="middle" fill="#000">0.10</text>
<text x="1436.5" y="1872.5" font-size="39" text-anchor="middle" fill="#000">0.15</text>
<text x="1553.0" y="1872.5" font-size="39" text-anchor="middle" fill="#000">0.20</text>
<text x="1008" y="1786.3" font-size="39" text-anchor="end" fill="#000">10</text>
<text x="1008" y="1566.6" font-size="39" text-anchor="end" fill="#000">100</text>
<text x="1008" y="1346.9" font-size="39" text-anchor="end" fill="#000">1000</text>
<text x="1320" y="1923.9" font-size="47.5" text-anchor="middle" fill="#000">Magnetic damping α</text>
<text transform="translate(910,1544.3) rotate(-90)" font-size="46.6" text-anchor="middle" fill="#000">Separation Time <tspan font-style="italic">t</tspan><tspan font-size="31" dy="9">sp</tspan><tspan dy="-9">(ns)</tspan></text>
<polyline points="1089.2,1295.3 1091.7,1360.5 1099.2,1452.3 1109.2,1509.5 1133.3,1577.7 1203.5,1669.9 1320.4,1733.1 1553.6,1791.8" fill="none" stroke="#000" stroke-width="3.2"/>
<circle cx="1089.2" cy="1295.3" r="13" fill="#fff" stroke="#000" stroke-width="4"/>
<circle cx="1091.7" cy="1360.5" r="13" fill="#fff" stroke="#000" stroke-width="4"/>
<circle cx="1099.2" cy="1452.3" r="13" fill="#fff" stroke="#000" stroke-width="4"/>
<circle cx="1109.2" cy="1509.5" r="13" fill="#fff" stroke="#000" stroke-width="4"/>
<circle cx="1133.3" cy="1577.7" r="13" fill="#fff" stroke="#000" stroke-width="4"/>
<circle cx="1203.5" cy="1669.9" r="13" fill="#fff" stroke="#000" stroke-width="4"/>
<circle cx="1320.4" cy="1733.1" r="13" fill="#fff" stroke="#000" stroke-width="4"/>
<circle cx="1553.6" cy="1791.8" r="13" fill="#fff" stroke="#000" stroke-width="4"/>
<line x1="1308.3" y1="1493.5" x2="1402.2" y2="1493.5" stroke="#000" stroke-width="3.2"/>
<circle cx="1354.3" cy="1493.5" r="13" fill="#fff" stroke="#000" stroke-width="4"/>
<text x="1412" y="1507.4" font-size="38.5" fill="#000">S<tspan font-size="25.5" dy="9">1</tspan><tspan dy="-9"> and S</tspan><tspan font-size="25.5" dy="9">2</tspan></text>
</svg></body></html>
